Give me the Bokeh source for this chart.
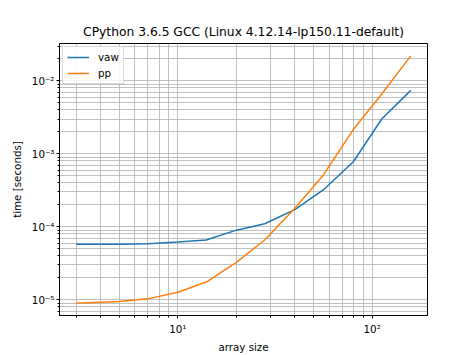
import math
from bokeh.plotting import figure
from bokeh.models import Range1d, FixedTicker, CustomJSTickFormatter, Legend, LegendItem
from bokeh.embed import file_html
from bokeh.resources import INLINE

# ---- data ----
sizes = [3, 5, 7, 10, 14, 20, 28, 40, 56, 80, 112, 158]
vaw = [5.75e-5, 5.75e-5, 5.85e-5, 6.2e-5, 6.6e-5, 9.0e-5, 1.1e-4, 1.72e-4, 3.2e-4, 7.8e-4, 3.0e-3, 7.4e-3]
pp = [9.0e-6, 9.5e-6, 1.03e-5, 1.27e-5, 1.75e-5, 3.25e-5, 6.6e-5, 1.8e-4, 5.1e-4, 2.15e-3, 6.6e-3, 2.2e-2]

title = "CPython 3.6.5 GCC (Linux 4.12.14-lp150.11-default)"
xlabel = "array size"
ylabel = "time [seconds]"
series_names = ["vaw", "pp"]
colors = ["#1f77b4", "#ff7f0e"]

# ---- autoscale with 5% margins in log space (like matplotlib) ----
def log_limits(vals, frac=0.05):
    lo, hi = math.log10(min(vals)), math.log10(max(vals))
    span = hi - lo
    return 10 ** (lo - frac * span), 10 ** (hi + frac * span)

xmin, xmax = log_limits(sizes)
ymin, ymax = log_limits(vaw + pp)

FONT = "DejaVu Sans"
p = figure(width=474, height=355, x_axis_type="log", y_axis_type="log",
           x_range=Range1d(xmin, xmax), y_range=Range1d(ymin, ymax),
           output_backend="svg", toolbar_location=None,
           min_border_left=59, min_border_right=47, min_border_top=43, min_border_bottom=39)

p.title.text = title
p.title.text_font = FONT
p.title.text_font_size = "12.3px"
p.title.text_font_style = "normal"
p.title.align = "center"
p.title.text_color = "black"
p.title.standoff = 10

p.outline_line_color = "black"
p.outline_line_width = 1
p.background_fill_color = "white"
p.border_fill_color = "white"

def minor_list(e0, e1):
    return [k * 10 ** e for e in range(e0, e1) for k in range(2, 10)]

p.xaxis.ticker = FixedTicker(ticks=[1, 10, 100, 1000], minor_ticks=minor_list(0, 3))
p.yaxis.ticker = FixedTicker(ticks=[1e-6, 1e-5, 1e-4, 1e-3, 1e-2, 1e-1],
                             minor_ticks=minor_list(-6, -1))

fmt_code = """
const sup = {"-":"\u207b","0":"\u2070","1":"\u00b9","2":"\u00b2","3":"\u00b3","4":"\u2074","5":"\u2075","6":"\u2076","7":"\u2077","8":"\u2078","9":"\u2079"};
const e = Math.round(Math.log10(tick));
return "10" + String(e).split("").map(c => sup[c]).join("");
"""
for ax in (p.xaxis[0], p.yaxis[0]):
    ax.formatter = CustomJSTickFormatter(code=fmt_code)
    ax.major_label_text_font = FONT
    ax.major_label_text_font_size = "10.3px"
    ax.major_label_text_color = "black"
    ax.axis_label_text_font = FONT
    ax.axis_label_text_font_size = "10.3px"
    ax.axis_label_text_font_style = "normal"
    ax.axis_label_text_color = "black"
    ax.axis_line_color = "black"
    ax.major_tick_line_color = "black"
    ax.minor_tick_line_color = "black"
    ax.major_tick_in = 0
    ax.major_tick_out = 3
    ax.minor_tick_in = 0
    ax.minor_tick_out = 2

p.xaxis.axis_label = xlabel
p.yaxis.axis_label = ylabel
p.xaxis.major_label_standoff = 4
p.xaxis.axis_label_standoff = 3
p.yaxis.major_label_standoff = 2
p.yaxis.axis_label_standoff = 6

for g in (p.xgrid[0], p.ygrid[0]):
    g.grid_line_color = "#b0b0b0"
    g.grid_line_width = 0.8
    g.minor_grid_line_color = "#b0b0b0"
    g.minor_grid_line_width = 0.8

r1 = p.line(sizes, vaw, line_color=colors[0], line_width=1.5)
r2 = p.line(sizes, pp, line_color=colors[1], line_width=1.5)

legend = Legend(items=[LegendItem(label=series_names[0], renderers=[r1]),
                       LegendItem(label=series_names[1], renderers=[r2])],
                location="top_left")
legend.margin = 3
legend.padding = 4
legend.spacing = 4
legend.glyph_width = 22
legend.glyph_height = 12
legend.label_height = 12
legend.label_standoff = 9
legend.label_text_font = FONT
legend.label_text_font_size = "10.3px"
legend.label_text_color = "black"
legend.border_line_color = "#b8b8b8"
legend.border_line_width = 1
legend.background_fill_color = "white"
legend.background_fill_alpha = 0.85
p.add_layout(legend)

with open("out.html", "w", encoding="utf-8") as f:
    f.write(file_html(p, INLINE))
